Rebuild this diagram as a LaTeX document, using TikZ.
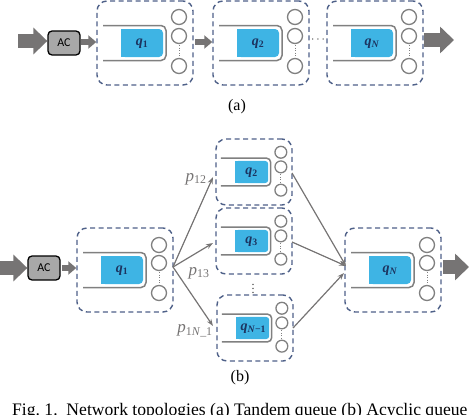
\documentclass[tikz,border=0pt]{standalone}
\usepackage{fontspec}
\setmainfont{Liberation Serif}
\newfontfamily\acfont{Carlito}
\usetikzlibrary{arrows.meta,calc}
\definecolor{qblue}{RGB}{62,180,228}
\definecolor{qdashc}{RGB}{78,96,136}
\definecolor{qgray}{RGB}{128,128,128}
\definecolor{agray}{RGB}{118,116,116}
\definecolor{qtext}{RGB}{28,52,96}
\definecolor{acfill}{RGB}{168,168,168}
\newcommand\qq[1]{\textbf{\textit{q}}\textsubscript{\textbf{#1}}}
\tikzset{
  qbox/.style={draw=qdashc, line width=1.4pt, dash pattern=on 5pt off 3.5pt, rounded corners=10pt, inner sep=0pt},
  qline/.style={draw=qgray, line width=1.5pt},
  qcirc/.style={draw=qgray, line width=1.3pt, fill=white},
  qlab/.style={text=qtext, font=\fontsize{14}{16}\selectfont},
  acbox/.style={draw=black, line width=1.3pt, fill=acfill, rounded corners=4pt, minimum width=32pt, minimum height=24pt, inner sep=0pt, font=\acfont\fontsize{12}{14}\selectfont},
  bigarrow/.style={draw=agray, line width=14pt, -{Triangle[length=14pt,width=26pt]}},
  smallarrow/.style={draw=agray, line width=6pt, -{Triangle[length=8pt,width=13pt]}},
  conn/.style={draw=agray, line width=1.2pt, -{Stealth[length=7pt,width=5pt]}},
  plab/.style={text=agray, font=\fontsize{17}{19}\selectfont},
  sublab/.style={font=\fontsize{16}{18}\selectfont},
  qdots/.style={draw=qgray, line width=0.8pt, dash pattern=on 1pt off 1.5pt},
}
\begin{document}
\begin{tikzpicture}[x=1pt, y=-1pt]
\useasboundingbox (0,0) rectangle (474,415);
% ---------- (a) tandem ----------
\node[acbox] (acA) at (64,43) {AC};
\coordinate (inA) at (18,41);
\draw[bigarrow] (inA) -- (inA -| acA.west);
% module a1
\node[qbox, minimum width=96pt, minimum height=84pt] (a1) at (145,43) {};
\fill[qblue, rounded corners=4pt] (121,29) rectangle (163,57);
\fill[qblue] (121,29) rectangle (140,57);
\draw[qline, rounded corners=5pt] (103,25.5) -- (166,25.5) -- (166,60.5) -- (103,60.5);
\draw[qcirc] (179,17) circle[radius=7.5];
\draw[qcirc] (179,36) circle[radius=7.5];
\draw[qcirc] (179,66) circle[radius=7.5];
\draw[qdots] (179,45) -- (179,57);
\node[qlab] (a1l) at (142,44) {\qq{1}};
% module a2
\node[qbox, minimum width=96pt, minimum height=84pt] (a2) at (261,43) {};
\fill[qblue, rounded corners=4pt] (237,29) rectangle (279,57);
\fill[qblue] (237,29) rectangle (256,57);
\draw[qline, rounded corners=5pt] (219,25.5) -- (282,25.5) -- (282,60.5) -- (219,60.5);
\draw[qcirc] (295,17) circle[radius=7.5];
\draw[qcirc] (295,36) circle[radius=7.5];
\draw[qcirc] (295,66) circle[radius=7.5];
\draw[qdots] (295,45) -- (295,57);
\node[qlab] (a2l) at (258,44) {\qq{2}};
% module aN
\node[qbox, minimum width=96pt, minimum height=84pt] (aN) at (375,43) {};
\fill[qblue, rounded corners=4pt] (351,29) rectangle (393,57);
\fill[qblue] (351,29) rectangle (370,57);
\draw[qline, rounded corners=5pt] (333,25.5) -- (396,25.5) -- (396,60.5) -- (333,60.5);
\draw[qcirc] (409,17) circle[radius=7.5];
\draw[qcirc] (409,36) circle[radius=7.5];
\draw[qcirc] (409,66) circle[radius=7.5];
\draw[qdots] (409,45) -- (409,57);
\node[qlab] (aNl) at (372,44) {\qq{\textit{N}}};
% arrows (a)
\coordinate (s1) at (81,42);
\draw[smallarrow] (s1) -- (s1 -| a1.west);
\coordinate (s2) at (195,42);
\draw[smallarrow] (s2) -- (s2 -| a2.west);
\node[text=black!80, font=\fontsize{12}{14}\selectfont] (hdots) at (318,40) {$\cdots$};
\coordinate (o1) at (424,40);
\coordinate (outA) at (454,40);
\draw[bigarrow] (o1) -- (outA);
\node[sublab] (la) at (237,107) {(a)};
% ---------- (b) acyclic ----------
\node[acbox] (acB) at (44,268) {AC};
\coordinate (inB) at (-4,268);
\draw[bigarrow] (inB) -- (inB -| acB.west);
% module b1 (center 125,270)
\node[qbox, minimum width=96pt, minimum height=84pt] (b1) at (125,270) {};
\fill[qblue, rounded corners=4pt] (101,256) rectangle (143,284);
\fill[qblue] (101,256) rectangle (120,284);
\draw[qline, rounded corners=5pt] (83,252.5) -- (146,252.5) -- (146,287.5) -- (83,287.5);
\draw[qcirc] (159,245) circle[radius=7.5];
\draw[qcirc] (159,263) circle[radius=7.5];
\draw[qcirc] (159,293) circle[radius=7.5];
\draw[qdots] (159,272) -- (159,284);
\node[qlab] (b1l) at (122,271) {\qq{1}};
% module bN (center 393,270)
\node[qbox, minimum width=96pt, minimum height=84pt] (bN) at (393,270) {};
\fill[qblue, rounded corners=4pt] (369,256) rectangle (411,284);
\fill[qblue] (369,256) rectangle (388,284);
\draw[qline, rounded corners=5pt] (351,252.5) -- (414,252.5) -- (414,287.5) -- (351,287.5);
\draw[qcirc] (427,245) circle[radius=7.5];
\draw[qcirc] (427,263) circle[radius=7.5];
\draw[qcirc] (427,293) circle[radius=7.5];
\draw[qdots] (427,272) -- (427,284);
\node[qlab] (bNl) at (390,271) {\qq{\textit{N}}};
% small modules: scale 0.79
\begin{scope}[shift={(254,172)}, scale=0.79]
\node[qbox, minimum width=76pt, minimum height=66pt] (b2) at (0,0) {};
\fill[qblue, rounded corners=3pt] (-24,-14) rectangle (18,14);
\fill[qblue] (-24,-14) rectangle (0,14);
\draw[qline, rounded corners=4pt] (-42,-17.5) -- (21,-17.5) -- (21,17.5) -- (-42,17.5);
\draw[qcirc] (34,-25) circle[radius=7.5];
\draw[qcirc] (34,-6.5) circle[radius=7.5];
\draw[qcirc] (34,23) circle[radius=7.5];
\draw[qdots] (34,3) -- (34,14);
\node[qlab] (b2l) at (-3,1) {\qq{2}};
\end{scope}
\begin{scope}[shift={(254,241)}, scale=0.79]
\node[qbox, minimum width=76pt, minimum height=66pt] (b3) at (0,0) {};
\fill[qblue, rounded corners=3pt] (-24,-14) rectangle (18,14);
\fill[qblue] (-24,-14) rectangle (0,14);
\draw[qline, rounded corners=4pt] (-42,-17.5) -- (21,-17.5) -- (21,17.5) -- (-42,17.5);
\draw[qcirc] (34,-25) circle[radius=7.5];
\draw[qcirc] (34,-6.5) circle[radius=7.5];
\draw[qcirc] (34,23) circle[radius=7.5];
\draw[qdots] (34,3) -- (34,14);
\node[qlab] (b3l) at (-3,1) {\qq{3}};
\end{scope}
\begin{scope}[shift={(255,328)}, scale=0.79]
\node[qbox, minimum width=76pt, minimum height=66pt] (bM) at (0,0) {};
\fill[qblue, rounded corners=3pt] (-24,-14) rectangle (18,14);
\fill[qblue] (-24,-14) rectangle (0,14);
\draw[qline, rounded corners=4pt] (-42,-17.5) -- (21,-17.5) -- (21,17.5) -- (-42,17.5);
\draw[qcirc] (34,-25) circle[radius=7.5];
\draw[qcirc] (34,-6.5) circle[radius=7.5];
\draw[qcirc] (34,23) circle[radius=7.5];
\draw[qdots] (34,3) -- (34,14);
\node[qlab] (bMl) at (-2,1) {\qq{\textit{N}−1}};
\end{scope}
% arrows (b)
\coordinate (s3) at (62,268);
\draw[smallarrow] (s3) -- (s3 -| b1.west);
\coordinate (o2) at (443,267);
\coordinate (outB) at (469,267);
\draw[bigarrow] (o2) -- (outB);
\coordinate (src) at (173,267);
\coordinate (snk) at (346,266);
\coordinate (t2) at (213,177);
\coordinate (t3) at (213,243);
\coordinate (tM) at (213,326);
\coordinate (tN) at (344,273);
\draw[conn] (src) -- (t2);
\draw[conn] (src) -- (t3);
\draw[conn] (src) -- (tM);
\coordinate (e2) at (292,173);
\coordinate (e3) at (292,242);
\coordinate (eM) at (293,328);
\draw[conn] (e2) -- (snk);
\draw[conn] (e3) -- (snk);
\draw[conn] (eM) -- (tN);
\node[plab] (p12) at (196,179) {\textit{p}\textsubscript{12}};
\node[plab] (p13) at (199,273) {\textit{p}\textsubscript{13}};
\node[plab] (p1N) at (195,331) {\textit{p}\textsubscript{1\textit{N}\_1}};
\node[text=black!80, font=\fontsize{12}{14}\selectfont] (vdots) at (253,286) {$\vdots$};
\node[sublab] (lb) at (240,378) {(b)};
% ---------- caption ----------
\node[anchor=base west, inner sep=0pt, font=\fontsize{17.6}{19}\selectfont] (cap) at (12,415) {Fig.~1.\ \ Network topologies (a) Tandem queue (b) Acyclic queue};
\end{tikzpicture}
\end{document}
